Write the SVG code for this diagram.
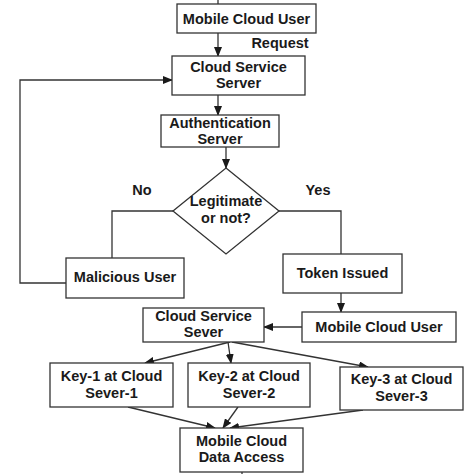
<svg xmlns="http://www.w3.org/2000/svg" width="474" height="474" viewBox="0 0 474 474">
<style>
.box{fill:#fff;stroke:#333;stroke-width:1.3}
.t{font-family:"Liberation Sans",Arial,sans-serif;font-weight:bold;font-size:14.5px;fill:#1a1a1a;text-anchor:middle}
.l{fill:none;stroke:#333;stroke-width:1.3}
.a{fill:none;stroke:#333;stroke-width:1.3;marker-end:url(#ah)}
</style>
<defs>
<marker id="ah" markerWidth="10" markerHeight="8" refX="9" refY="4" orient="auto" markerUnits="userSpaceOnUse">
<path d="M0,0 L10,4 L0,8 Z" fill="#1a1a1a"/>
</marker>
</defs>
<rect width="474" height="474" fill="#fff"/>
<g id="connectors">
<path class="l" d="M218,0 V4"/>
<path class="a" d="M218,33 V56"/>
<path class="a" d="M218,95 V115"/>
<path class="a" d="M226,147 V168"/>
<path class="l" d="M173,211 H112 V258"/>
<path class="l" d="M279,211 H341 V254"/>
<path class="a" d="M66,283 H20 V80 H172"/>
<path class="a" d="M341,293 V312"/>
<path class="a" d="M302,327 H264"/>
<path class="a" d="M230,342 L145,363"/>
<path class="a" d="M228,342 L231,363"/>
<path class="a" d="M232,342 L368,367"/>
<path class="a" d="M128,407 L215,428"/>
<path class="a" d="M238,407 L223,428"/>
<path class="a" d="M363,410 L230,428"/>
<path class="l" d="M242,472 V474"/>
</g>
<text class="t" x="280" y="48">Request</text>
<text class="t" x="142" y="195">No</text>
<text class="t" x="318" y="195">Yes</text>
<g id="mobile-cloud-user">
<rect class="box" x="177" y="4" width="139" height="29"/>
<text class="t" x="246.5" y="24">Mobile Cloud User</text>
</g>
<g id="cloud-service-server">
<rect class="box" x="172" y="56" width="133" height="39"/>
<text class="t" x="238.5" y="72">Cloud Service</text>
<text class="t" x="238.5" y="88">Server</text>
</g>
<g id="authentication-server">
<rect class="box" x="161" y="115" width="118" height="32"/>
<text class="t" x="220" y="128">Authentication</text>
<text class="t" x="220" y="144">Server</text>
</g>
<g id="legitimate">
<polygon class="box" points="226,168 279,211 226,254 173,211"/>
<text class="t" x="226" y="206">Legitimate</text>
<text class="t" x="226" y="223">or not?</text>
</g>
<g id="malicious-user">
<rect class="box" x="66" y="258" width="118" height="40"/>
<text class="t" x="125" y="282">Malicious User</text>
</g>
<g id="token-issued">
<rect class="box" x="283" y="254" width="119" height="39"/>
<text class="t" x="342.5" y="278">Token Issued</text>
</g>
<g id="mobile-cloud-user-2">
<rect class="box" x="302" y="312" width="154" height="30"/>
<text class="t" x="379" y="332">Mobile Cloud User</text>
</g>
<g id="cloud-service-sever">
<rect class="box" x="143" y="308" width="121" height="34"/>
<text class="t" x="203.5" y="321">Cloud Service</text>
<text class="t" x="203.5" y="337">Sever</text>
</g>
<g id="key-1">
<rect class="box" x="50" y="363" width="123" height="44"/>
<text class="t" x="111.5" y="381">Key-1 at Cloud</text>
<text class="t" x="111.5" y="398">Sever-1</text>
</g>
<g id="key-2">
<rect class="box" x="188" y="363" width="122" height="44"/>
<text class="t" x="249" y="381">Key-2 at Cloud</text>
<text class="t" x="249" y="398">Sever-2</text>
</g>
<g id="key-3">
<rect class="box" x="340" y="367" width="123" height="43"/>
<text class="t" x="401.5" y="384">Key-3 at Cloud</text>
<text class="t" x="401.5" y="401">Sever-3</text>
</g>
<g id="mobile-cloud-data-access">
<rect class="box" x="180" y="428" width="123" height="44"/>
<text class="t" x="241.5" y="446">Mobile Cloud</text>
<text class="t" x="241.5" y="462">Data Access</text>
</g>
</svg>
